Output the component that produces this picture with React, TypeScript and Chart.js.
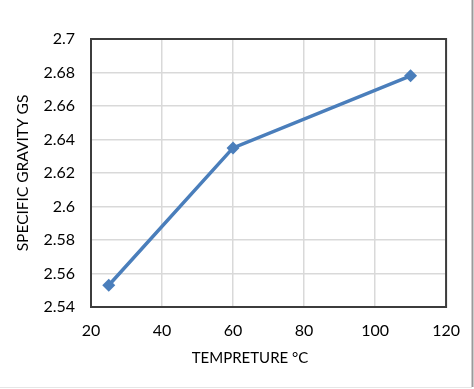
import React, { useEffect, useRef } from "react";
import { Chart, registerables } from "chart.js";

Chart.register(...registerables);

const temperatures = [25, 60, 110];
const specificGravity = [2.553, 2.635, 2.678];
const xTitle = "TEMPRETURE °C";
const yTitle = "SPECIFIC GRAVITY GS";

const FONT = "Lato, 'Open Sans', sans-serif";

const framePlugin = {
  id: "frame",
  afterDatasetsDraw(chart: any) {
    const { ctx, chartArea } = chart;
    ctx.save();
    ctx.strokeStyle = "#3c3c3c";
    ctx.lineWidth = 2;
    ctx.strokeRect(chartArea.left, chartArea.top, chartArea.right - chartArea.left, chartArea.bottom - chartArea.top);
    ctx.restore();
  },
  afterDraw(chart: any) {
    const { ctx, width, height } = chart;
    ctx.save();
    // x-axis title (offset left of plot centre, as in the reference)
    ctx.fillStyle = "#000";
    ctx.font = `15px ${FONT}`;
    ctx.textAlign = "center";
    ctx.textBaseline = "middle";
    ctx.fillText(xTitle, 250, 358);
    // outer frame
    ctx.strokeStyle = "#9a9a9a";
    ctx.lineWidth = 2;
    ctx.beginPath();
    ctx.moveTo(width - 1.5, 0);
    ctx.lineTo(width - 1.5, height - 2);
    ctx.stroke();
    ctx.strokeStyle = "#e6e6e6";
    ctx.lineWidth = 1;
    ctx.beginPath();
    ctx.moveTo(0, height - 1.5);
    ctx.lineTo(width - 2, height - 1.5);
    ctx.stroke();
    ctx.restore();
  },
};

export default function App() {
  const ref = useRef<HTMLCanvasElement>(null);
  useEffect(() => {
    document.body.style.margin = "0";
    const chart = new Chart(ref.current!, {
      type: "line",
      data: {
        datasets: [
          {
            data: temperatures.map((t, i) => ({ x: t, y: specificGravity[i] })),
            borderColor: "#4a7ebb",
            backgroundColor: "#4a7ebb",
            borderWidth: 3.5,
            pointStyle: "rectRot",
            pointRadius: 6.5,
            pointBorderWidth: 0,
            tension: 0,
          },
        ],
      },
      options: {
        animation: false,
        responsive: false,
        layout: { padding: { left: 0, right: 26, top: 39, bottom: 0 } },
        plugins: { legend: { display: false }, tooltip: { enabled: false } },
        scales: {
          x: {
            type: "linear",
            min: 20,
            max: 120,
            ticks: { stepSize: 20, color: "#000", font: { family: FONT, size: 16 }, padding: 14 },
            grid: { color: "#d9d9d9", lineWidth: 1.5, drawTicks: false },
            border: { display: false },
            title: { display: false, text: xTitle },
            afterFit(scale: any) {
              scale.height = 82;
            },
          },
          y: {
            min: 2.54,
            max: 2.7,
            ticks: {
              stepSize: 0.02,
              color: "#000",
              font: { family: FONT, size: 16 },
              padding: 16,
              callback: (v: any) => String(Math.round(Number(v) * 100) / 100),
            },
            grid: { color: "#d9d9d9", lineWidth: 1.5, drawTicks: false },
            border: { display: false },
            title: { display: true, text: yTitle, color: "#000", font: { family: FONT, size: 15.5 }, padding: { top: 14, bottom: 0 } },
            afterFit(scale: any) {
              scale.width = 91;
            },
          },
        },
      },
      plugins: [framePlugin],
    });
    return () => chart.destroy();
  }, []);
  return (
    <div style={{ position: "absolute", left: 0, top: 0, width: 474, height: 389 }}>
      <canvas ref={ref} width={474} height={389} style={{ display: "block" }} />
    </div>
  );
}
